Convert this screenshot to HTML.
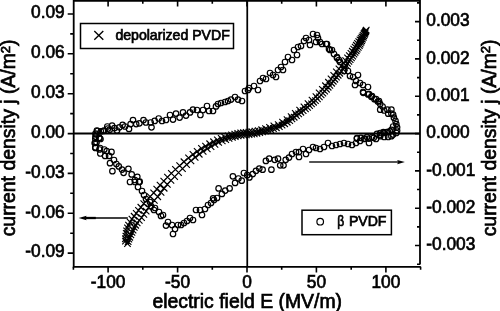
<!DOCTYPE html><html><head><meta charset="utf-8"><style>html,body{margin:0;padding:0;background:#fff;}svg{display:block}</style></head><body>
<svg width="500" height="311" viewBox="0 0 500 311" font-family="'Liberation Sans', sans-serif">
<style>text{stroke:#000;stroke-width:0.7px;font-variant-ligatures:none;font-feature-settings:"liga" 0;}</style>
<g stroke="#000" fill="none">
<line x1="73.7" y1="133.55" x2="420.0" y2="133.55" stroke-width="2"/>
<line x1="247.25" y1="0.8" x2="247.25" y2="266.8" stroke-width="1.75"/>
</g>
<g fill="none" stroke="#000" stroke-width="1.2">
<circle cx="96.9" cy="130.5" r="2.75"/>
<circle cx="100.9" cy="131.3" r="2.75"/>
<circle cx="104.1" cy="130.5" r="2.75"/>
<circle cx="107.3" cy="126.5" r="2.75"/>
<circle cx="109.7" cy="129.7" r="2.75"/>
<circle cx="112.1" cy="125.7" r="2.75"/>
<circle cx="114.5" cy="128.1" r="2.75"/>
<circle cx="117.0" cy="130.5" r="2.75"/>
<circle cx="119.4" cy="127.3" r="2.75"/>
<circle cx="122.6" cy="124.9" r="2.75"/>
<circle cx="125.0" cy="126.5" r="2.75"/>
<circle cx="129.0" cy="128.9" r="2.75"/>
<circle cx="130.6" cy="124.1" r="2.75"/>
<circle cx="133.0" cy="120.1" r="2.75"/>
<circle cx="136.2" cy="124.1" r="2.75"/>
<circle cx="139.4" cy="123.3" r="2.75"/>
<circle cx="143.5" cy="120.1" r="2.75"/>
<circle cx="145.9" cy="122.5" r="2.75"/>
<circle cx="150.7" cy="122.5" r="2.75"/>
<circle cx="151.5" cy="127.3" r="2.75"/>
<circle cx="154.7" cy="120.9" r="2.75"/>
<circle cx="158.7" cy="118.5" r="2.75"/>
<circle cx="162.0" cy="121.0" r="2.75"/>
<circle cx="166.0" cy="120.0" r="2.75"/>
<circle cx="170.0" cy="115.0" r="2.75"/>
<circle cx="173.0" cy="119.6" r="2.75"/>
<circle cx="176.0" cy="113.6" r="2.75"/>
<circle cx="179.6" cy="117.6" r="2.75"/>
<circle cx="183.0" cy="112.4" r="2.75"/>
<circle cx="186.0" cy="115.6" r="2.75"/>
<circle cx="190.0" cy="112.4" r="2.75"/>
<circle cx="193.0" cy="109.6" r="2.75"/>
<circle cx="197.0" cy="110.0" r="2.75"/>
<circle cx="200.4" cy="115.0" r="2.75"/>
<circle cx="203.0" cy="110.0" r="2.75"/>
<circle cx="207.0" cy="106.0" r="2.75"/>
<circle cx="209.0" cy="111.0" r="2.75"/>
<circle cx="213.0" cy="111.0" r="2.75"/>
<circle cx="216.0" cy="106.4" r="2.75"/>
<circle cx="218.0" cy="104.0" r="2.75"/>
<circle cx="221.0" cy="103.0" r="2.75"/>
<circle cx="225.0" cy="102.0" r="2.75"/>
<circle cx="228.0" cy="101.0" r="2.75"/>
<circle cx="231.0" cy="99.6" r="2.75"/>
<circle cx="235.0" cy="97.0" r="2.75"/>
<circle cx="238.0" cy="99.6" r="2.75"/>
<circle cx="242.0" cy="101.0" r="2.75"/>
<circle cx="245.0" cy="91.0" r="2.75"/>
<circle cx="248.0" cy="90.0" r="2.75"/>
<circle cx="249.0" cy="88.0" r="2.75"/>
<circle cx="254.0" cy="86.0" r="2.75"/>
<circle cx="258.0" cy="90.0" r="2.75"/>
<circle cx="260.0" cy="81.0" r="2.75"/>
<circle cx="263.0" cy="78.0" r="2.75"/>
<circle cx="266.0" cy="79.0" r="2.75"/>
<circle cx="270.0" cy="73.0" r="2.75"/>
<circle cx="273.0" cy="75.0" r="2.75"/>
<circle cx="276.0" cy="77.0" r="2.75"/>
<circle cx="278.0" cy="70.0" r="2.75"/>
<circle cx="281.0" cy="67.0" r="2.75"/>
<circle cx="283.0" cy="70.0" r="2.75"/>
<circle cx="285.0" cy="62.0" r="2.75"/>
<circle cx="288.0" cy="57.0" r="2.75"/>
<circle cx="292.0" cy="60.0" r="2.75"/>
<circle cx="294.0" cy="50.0" r="2.75"/>
<circle cx="297.0" cy="55.0" r="2.75"/>
<circle cx="298.0" cy="47.0" r="2.75"/>
<circle cx="301.0" cy="46.0" r="2.75"/>
<circle cx="304.0" cy="41.0" r="2.75"/>
<circle cx="306.0" cy="38.0" r="2.75"/>
<circle cx="309.0" cy="40.0" r="2.75"/>
<circle cx="310.0" cy="45.0" r="2.75"/>
<circle cx="313.0" cy="34.0" r="2.75"/>
<circle cx="317.0" cy="35.0" r="2.75"/>
<circle cx="318.0" cy="38.0" r="2.75"/>
<circle cx="316.0" cy="42.0" r="2.75"/>
<circle cx="320.0" cy="42.0" r="2.75"/>
<circle cx="322.0" cy="44.0" r="2.75"/>
<circle cx="327.0" cy="44.0" r="2.75"/>
<circle cx="329.0" cy="49.0" r="2.75"/>
<circle cx="332.0" cy="50.0" r="2.75"/>
<circle cx="334.0" cy="54.0" r="2.75"/>
<circle cx="337.0" cy="57.0" r="2.75"/>
<circle cx="339.0" cy="60.0" r="2.75"/>
<circle cx="326.0" cy="44.0" r="2.75"/>
<circle cx="330.0" cy="50.0" r="2.75"/>
<circle cx="337.0" cy="58.0" r="2.75"/>
<circle cx="340.0" cy="62.0" r="2.75"/>
<circle cx="345.0" cy="65.0" r="2.75"/>
<circle cx="344.0" cy="71.0" r="2.75"/>
<circle cx="348.0" cy="71.0" r="2.75"/>
<circle cx="350.0" cy="76.0" r="2.75"/>
<circle cx="353.0" cy="77.0" r="2.75"/>
<circle cx="358.0" cy="75.0" r="2.75"/>
<circle cx="356.0" cy="81.0" r="2.75"/>
<circle cx="355.0" cy="85.0" r="2.75"/>
<circle cx="360.0" cy="83.0" r="2.75"/>
<circle cx="363.0" cy="85.0" r="2.75"/>
<circle cx="368.0" cy="87.0" r="2.75"/>
<circle cx="363.0" cy="92.0" r="2.75"/>
<circle cx="369.0" cy="94.0" r="2.75"/>
<circle cx="372.0" cy="96.0" r="2.75"/>
<circle cx="376.0" cy="99.0" r="2.75"/>
<circle cx="379.0" cy="101.0" r="2.75"/>
<circle cx="363.3" cy="92.8" r="2.75"/>
<circle cx="368.1" cy="94.4" r="2.75"/>
<circle cx="371.3" cy="96.8" r="2.75"/>
<circle cx="374.5" cy="99.2" r="2.75"/>
<circle cx="377.8" cy="101.6" r="2.75"/>
<circle cx="380.2" cy="104.0" r="2.75"/>
<circle cx="382.6" cy="106.5" r="2.75"/>
<circle cx="380.2" cy="109.7" r="2.75"/>
<circle cx="384.2" cy="110.5" r="2.75"/>
<circle cx="387.4" cy="109.7" r="2.75"/>
<circle cx="391.4" cy="109.7" r="2.75"/>
<circle cx="388.2" cy="113.7" r="2.75"/>
<circle cx="391.4" cy="113.7" r="2.75"/>
<circle cx="393.1" cy="114.5" r="2.75"/>
<circle cx="393.9" cy="117.7" r="2.75"/>
<circle cx="395.5" cy="120.9" r="2.75"/>
<circle cx="396.3" cy="124.1" r="2.75"/>
<circle cx="397.1" cy="127.3" r="2.75"/>
<circle cx="397.1" cy="130.6" r="2.75"/>
<circle cx="396.3" cy="133.0" r="2.75"/>
<circle cx="393.1" cy="126.5" r="2.75"/>
<circle cx="391.5" cy="129.8" r="2.75"/>
<circle cx="389.8" cy="131.4" r="2.75"/>
<circle cx="386.6" cy="132.2" r="2.75"/>
<circle cx="383.4" cy="132.2" r="2.75"/>
<circle cx="380.2" cy="133.0" r="2.75"/>
<circle cx="377.0" cy="133.8" r="2.75"/>
<circle cx="380.2" cy="136.2" r="2.75"/>
<circle cx="384.2" cy="137.0" r="2.75"/>
<circle cx="388.2" cy="137.0" r="2.75"/>
<circle cx="391.4" cy="136.2" r="2.75"/>
<circle cx="393.1" cy="134.6" r="2.75"/>
<circle cx="373.7" cy="137.8" r="2.75"/>
<circle cx="368.9" cy="138.6" r="2.75"/>
<circle cx="364.9" cy="138.6" r="2.75"/>
<circle cx="360.9" cy="137.8" r="2.75"/>
<circle cx="356.9" cy="138.6" r="2.75"/>
<circle cx="388.0" cy="132.0" r="2.75"/>
<circle cx="384.0" cy="133.0" r="2.75"/>
<circle cx="380.0" cy="135.0" r="2.75"/>
<circle cx="376.0" cy="139.0" r="2.75"/>
<circle cx="372.0" cy="137.0" r="2.75"/>
<circle cx="367.0" cy="137.0" r="2.75"/>
<circle cx="369.0" cy="143.0" r="2.75"/>
<circle cx="364.0" cy="139.0" r="2.75"/>
<circle cx="360.0" cy="141.0" r="2.75"/>
<circle cx="357.0" cy="138.0" r="2.75"/>
<circle cx="356.0" cy="143.0" r="2.75"/>
<circle cx="352.0" cy="145.0" r="2.75"/>
<circle cx="348.0" cy="144.0" r="2.75"/>
<circle cx="344.0" cy="143.0" r="2.75"/>
<circle cx="340.0" cy="144.0" r="2.75"/>
<circle cx="336.0" cy="145.0" r="2.75"/>
<circle cx="332.0" cy="146.0" r="2.75"/>
<circle cx="328.0" cy="143.0" r="2.75"/>
<circle cx="324.0" cy="147.0" r="2.75"/>
<circle cx="320.0" cy="149.0" r="2.75"/>
<circle cx="316.0" cy="148.0" r="2.75"/>
<circle cx="313.0" cy="147.0" r="2.75"/>
<circle cx="309.0" cy="150.0" r="2.75"/>
<circle cx="306.0" cy="154.0" r="2.75"/>
<circle cx="303.0" cy="149.0" r="2.75"/>
<circle cx="299.0" cy="157.0" r="2.75"/>
<circle cx="296.0" cy="152.0" r="2.75"/>
<circle cx="292.0" cy="154.0" r="2.75"/>
<circle cx="298.9" cy="152.1" r="2.75"/>
<circle cx="289.0" cy="157.6" r="2.75"/>
<circle cx="285.7" cy="159.8" r="2.75"/>
<circle cx="283.5" cy="165.3" r="2.75"/>
<circle cx="280.2" cy="165.3" r="2.75"/>
<circle cx="278.0" cy="158.7" r="2.75"/>
<circle cx="274.7" cy="159.8" r="2.75"/>
<circle cx="271.4" cy="169.7" r="2.75"/>
<circle cx="269.2" cy="158.7" r="2.75"/>
<circle cx="265.9" cy="160.9" r="2.75"/>
<circle cx="262.6" cy="169.7" r="2.75"/>
<circle cx="259.3" cy="168.6" r="2.75"/>
<circle cx="256.0" cy="170.8" r="2.75"/>
<circle cx="252.7" cy="174.1" r="2.75"/>
<circle cx="249.4" cy="177.4" r="2.75"/>
<circle cx="247.2" cy="175.2" r="2.75"/>
<circle cx="243.9" cy="173.0" r="2.75"/>
<circle cx="241.7" cy="180.7" r="2.75"/>
<circle cx="238.4" cy="178.5" r="2.75"/>
<circle cx="235.1" cy="182.9" r="2.75"/>
<circle cx="232.9" cy="176.3" r="2.75"/>
<circle cx="229.6" cy="188.4" r="2.75"/>
<circle cx="225.2" cy="190.6" r="2.75"/>
<circle cx="221.9" cy="193.9" r="2.75"/>
<circle cx="218.6" cy="188.4" r="2.75"/>
<circle cx="213.1" cy="198.3" r="2.75"/>
<circle cx="217.0" cy="198.0" r="2.75"/>
<circle cx="214.0" cy="200.0" r="2.75"/>
<circle cx="211.0" cy="203.0" r="2.75"/>
<circle cx="208.0" cy="205.0" r="2.75"/>
<circle cx="205.0" cy="209.0" r="2.75"/>
<circle cx="202.0" cy="215.0" r="2.75"/>
<circle cx="200.0" cy="210.0" r="2.75"/>
<circle cx="196.0" cy="210.0" r="2.75"/>
<circle cx="193.0" cy="220.0" r="2.75"/>
<circle cx="190.0" cy="218.0" r="2.75"/>
<circle cx="187.0" cy="221.0" r="2.75"/>
<circle cx="184.0" cy="223.0" r="2.75"/>
<circle cx="181.0" cy="225.0" r="2.75"/>
<circle cx="178.0" cy="225.0" r="2.75"/>
<circle cx="175.0" cy="229.0" r="2.75"/>
<circle cx="173.0" cy="234.0" r="2.75"/>
<circle cx="172.0" cy="225.0" r="2.75"/>
<circle cx="166.0" cy="225.6" r="2.75"/>
<circle cx="168.0" cy="222.0" r="2.75"/>
<circle cx="163.0" cy="215.0" r="2.75"/>
<circle cx="161.0" cy="216.0" r="2.75"/>
<circle cx="159.0" cy="212.0" r="2.75"/>
<circle cx="154.0" cy="210.0" r="2.75"/>
<circle cx="155.0" cy="208.0" r="2.75"/>
<circle cx="151.0" cy="206.0" r="2.75"/>
<circle cx="150.0" cy="202.0" r="2.75"/>
<circle cx="146.0" cy="199.0" r="2.75"/>
<circle cx="144.0" cy="195.0" r="2.75"/>
<circle cx="142.0" cy="191.0" r="2.75"/>
<circle cx="138.0" cy="187.0" r="2.75"/>
<circle cx="139.0" cy="182.0" r="2.75"/>
<circle cx="135.0" cy="182.0" r="2.75"/>
<circle cx="130.0" cy="182.0" r="2.75"/>
<circle cx="139.7" cy="181.7" r="2.75"/>
<circle cx="134.9" cy="180.0" r="2.75"/>
<circle cx="137.3" cy="176.8" r="2.75"/>
<circle cx="131.7" cy="174.4" r="2.75"/>
<circle cx="128.4" cy="168.8" r="2.75"/>
<circle cx="123.6" cy="172.8" r="2.75"/>
<circle cx="122.0" cy="169.6" r="2.75"/>
<circle cx="112.4" cy="171.2" r="2.75"/>
<circle cx="118.8" cy="166.4" r="2.75"/>
<circle cx="116.4" cy="164.0" r="2.75"/>
<circle cx="110.0" cy="163.2" r="2.75"/>
<circle cx="114.0" cy="160.0" r="2.75"/>
<circle cx="111.5" cy="151.9" r="2.75"/>
<circle cx="109.1" cy="155.9" r="2.75"/>
<circle cx="105.1" cy="155.9" r="2.75"/>
<circle cx="106.7" cy="151.1" r="2.75"/>
<circle cx="104.3" cy="149.5" r="2.75"/>
<circle cx="100.3" cy="153.5" r="2.75"/>
<circle cx="99.5" cy="149.5" r="2.75"/>
<circle cx="95.5" cy="147.9" r="2.75"/>
<circle cx="94.7" cy="143.0" r="2.75"/>
<circle cx="99.5" cy="138.2" r="2.75"/>
<circle cx="95.5" cy="136.6" r="2.75"/>
<circle cx="96.1" cy="134.5" r="2.75"/>
<circle cx="95.3" cy="138.6" r="2.75"/>
<circle cx="95.3" cy="142.6" r="2.75"/>
<circle cx="95.3" cy="147.4" r="2.75"/>
<circle cx="99.3" cy="137.8" r="2.75"/>
<circle cx="97.5" cy="131.0" r="2.75"/>
<circle cx="103.0" cy="131.0" r="2.75"/>
<circle cx="95.5" cy="133.5" r="2.75"/>
<circle cx="100.5" cy="139.0" r="2.75"/>
<circle cx="96.5" cy="142.5" r="2.75"/>
<circle cx="100.0" cy="148.0" r="2.75"/>
<circle cx="108.0" cy="128.5" r="2.75"/>
</g>
<path d="M124.2 240.4L130.7 246.9M124.2 246.9L130.7 240.4M124.9 238.3L131.4 244.8M124.9 244.8L131.4 238.3M125.6 235.9L132.1 242.4M125.6 242.4L132.1 235.9M126.5 234.0L133.0 240.5M126.5 240.5L133.0 234.0M127.6 231.6L134.1 238.1M127.6 238.1L134.1 231.6M128.7 229.2L135.2 235.7M128.7 235.7L135.2 229.2M129.8 226.9L136.3 233.4M129.8 233.4L136.3 226.9M131.0 224.2L137.5 230.7M131.0 230.7L137.5 224.2M132.4 222.0L138.9 228.5M132.4 228.5L138.9 222.0M133.9 219.6L140.4 226.1M133.9 226.1L140.4 219.6M136.0 217.1L142.5 223.6M136.0 223.6L142.5 217.1M138.3 214.3L144.8 220.8M138.3 220.8L144.8 214.3M140.6 211.1L147.1 217.6M140.6 217.6L147.1 211.1M142.9 207.8L149.4 214.3M142.9 214.3L149.4 207.8M145.3 204.4L151.8 210.9M145.3 210.9L151.8 204.4M148.1 200.7L154.6 207.2M148.1 207.2L154.6 200.7M151.1 197.2L157.6 203.7M151.1 203.7L157.6 197.2M154.5 193.5L161.0 200.0M154.5 200.0L161.0 193.5M157.8 189.2L164.3 195.7M157.8 195.7L164.3 189.2M160.9 185.0L167.4 191.5M160.9 191.5L167.4 185.0M164.1 181.2L170.6 187.7M164.1 187.7L170.6 181.2M167.7 177.2L174.2 183.7M167.7 183.7L174.2 177.2M171.4 173.4L177.9 179.9M171.4 179.9L177.9 173.4M175.3 169.3L181.8 175.8M175.3 175.8L181.8 169.3M179.2 165.4L185.7 171.9M179.2 171.9L185.7 165.4M183.4 161.4L189.9 167.9M183.4 167.9L189.9 161.4M187.7 157.7L194.2 164.2M187.7 164.2L194.2 157.7M191.9 154.2L198.4 160.7M191.9 160.7L198.4 154.2M196.0 151.0L202.5 157.5M196.0 157.5L202.5 151.0M199.9 148.1L206.4 154.6M199.9 154.6L206.4 148.1M204.0 145.6L210.5 152.1M204.0 152.1L210.5 145.6M207.8 143.3L214.3 149.8M207.8 149.8L214.3 143.3M211.7 141.2L218.2 147.7M211.7 147.7L218.2 141.2M215.4 139.2L221.9 145.7M215.4 145.7L221.9 139.2M219.0 137.7L225.5 144.2M219.0 144.2L225.5 137.7M222.5 136.3L229.0 142.8M222.5 142.8L229.0 136.3M225.8 135.1L232.3 141.6M225.8 141.6L232.3 135.1M229.1 134.1L235.6 140.6M229.1 140.6L235.6 134.1M232.0 133.3L238.5 139.8M232.0 139.8L238.5 133.3M234.9 132.7L241.4 139.2M234.9 139.2L241.4 132.7M237.8 132.2L244.3 138.7M237.8 138.7L244.3 132.2M240.6 131.9L247.1 138.4M240.6 138.4L247.1 131.9M243.1 131.7L249.6 138.2M243.1 138.2L249.6 131.7M245.8 131.3L252.3 137.8M245.8 137.8L252.3 131.3M248.4 130.9L254.9 137.4M248.4 137.4L254.9 130.9M251.0 130.6L257.5 137.1M251.0 137.1L257.5 130.6M253.7 130.0L260.2 136.5M253.7 136.5L260.2 130.0M256.5 129.4L263.0 135.9M256.5 135.9L263.0 129.4M259.3 128.7L265.8 135.2M259.3 135.2L265.8 128.7M262.0 127.9L268.5 134.4M262.0 134.4L268.5 127.9M264.7 127.1L271.2 133.6M264.7 133.6L271.2 127.1M267.4 126.3L273.9 132.8M267.4 132.8L273.9 126.3M270.2 125.4L276.7 131.9M270.2 131.9L276.7 125.4M273.1 124.5L279.6 131.0M273.1 131.0L279.6 124.5M276.1 123.4L282.6 129.9M276.1 129.9L282.6 123.4M278.8 121.9L285.3 128.4M278.8 128.4L285.3 121.9M281.4 120.5L287.9 127.0M281.4 127.0L287.9 120.5M284.0 119.0L290.5 125.5M284.0 125.5L290.5 119.0M286.5 117.4L293.0 123.9M286.5 123.9L293.0 117.4M288.7 115.7L295.2 122.2M288.7 122.2L295.2 115.7M290.9 114.0L297.4 120.5M290.9 120.5L297.4 114.0M293.2 112.3L299.7 118.8M293.2 118.8L299.7 112.3M295.4 110.6L301.9 117.1M295.4 117.1L301.9 110.6M297.6 109.0L304.1 115.5M297.6 115.5L304.1 109.0M299.9 107.3L306.4 113.8M299.9 113.8L306.4 107.3M302.2 105.7L308.7 112.2M302.2 112.2L308.7 105.7M304.3 104.2L310.8 110.7M304.3 110.7L310.8 104.2M306.4 102.4L312.9 108.9M306.4 108.9L312.9 102.4M308.3 100.7L314.8 107.2M308.3 107.2L314.8 100.7M310.3 99.0L316.8 105.5M310.3 105.5L316.8 99.0M312.2 97.3L318.7 103.8M312.2 103.8L318.7 97.3M314.2 95.6L320.7 102.1M314.2 102.1L320.7 95.6M316.1 93.6L322.6 100.1M316.1 100.1L322.6 93.6M317.9 91.7L324.4 98.2M317.9 98.2L324.4 91.7M319.6 89.8L326.1 96.3M319.6 96.3L326.1 89.8M321.4 87.9L327.9 94.4M321.4 94.4L327.9 87.9M323.2 86.0L329.7 92.5M323.2 92.5L329.7 86.0M324.9 84.0L331.4 90.5M324.9 90.5L331.4 84.0M326.6 82.1L333.1 88.6M326.6 88.6L333.1 82.1M328.4 80.0L334.9 86.5M328.4 86.5L334.9 80.0M330.0 78.0L336.5 84.5M330.0 84.5L336.5 78.0M331.6 76.0L338.1 82.5M331.6 82.5L338.1 76.0M333.2 73.9L339.7 80.4M333.2 80.4L339.7 73.9M334.9 72.0L341.4 78.5M334.9 78.5L341.4 72.0M336.5 70.0L343.0 76.5M336.5 76.5L343.0 70.0M338.2 67.9L344.7 74.4M338.2 74.4L344.7 67.9M339.8 65.9L346.3 72.4M339.8 72.4L346.3 65.9M341.3 64.0L347.8 70.5M341.3 70.5L347.8 64.0M342.8 62.1L349.3 68.6M342.8 68.6L349.3 62.1M344.2 60.1L350.7 66.6M344.2 66.6L350.7 60.1M345.6 58.2L352.1 64.7M345.6 64.7L352.1 58.2M346.9 56.4L353.4 62.9M346.9 62.9L353.4 56.4M348.2 54.7L354.7 61.2M348.2 61.2L354.7 54.7M349.5 52.8L356.0 59.3M349.5 59.3L356.0 52.8M350.7 50.9L357.2 57.4M350.7 57.4L357.2 50.9M351.8 49.2L358.3 55.7M351.8 55.7L358.3 49.2M352.9 47.5L359.4 54.0M352.9 54.0L359.4 47.5M353.9 45.9L360.4 52.4M353.9 52.4L360.4 45.9M355.0 44.2L361.5 50.7M355.0 50.7L361.5 44.2M356.1 42.4L362.6 48.9M356.1 48.9L362.6 42.4M356.9 40.8L363.4 47.3M356.9 47.3L363.4 40.8M357.7 39.2L364.2 45.7M357.7 45.7L364.2 39.2M358.4 37.5L364.9 44.0M358.4 44.0L364.9 37.5M359.2 35.9L365.7 42.4M359.2 42.4L365.7 35.9M360.0 34.2L366.5 40.7M360.0 40.7L366.5 34.2M360.6 32.7L367.1 39.2M360.6 39.2L367.1 32.7M361.2 31.2L367.7 37.7M361.2 37.7L367.7 31.2M361.8 29.8L368.3 36.3M361.8 36.3L368.3 29.8M362.4 28.3L368.9 34.8M362.4 34.8L368.9 28.3M363.0 26.8L369.5 33.3M363.0 33.3L369.5 26.8M122.2 237.9L128.7 244.4M122.2 244.4L128.7 237.9M122.2 235.5L128.7 242.0M122.2 242.0L128.7 235.5M122.6 232.8L129.1 239.3M122.6 239.3L129.1 232.8M123.0 230.2L129.5 236.7M123.0 236.7L129.5 230.2M123.4 227.6L129.9 234.1M123.4 234.1L129.9 227.6M124.2 224.7L130.7 231.2M124.2 231.2L130.7 224.7M125.3 221.9L131.8 228.4M125.3 228.4L131.8 221.9M126.9 218.8L133.4 225.3M126.9 225.3L133.4 218.8M128.7 215.8L135.2 222.3M128.7 222.3L135.2 215.8M130.9 213.0L137.4 219.5M130.9 219.5L137.4 213.0M133.0 210.2L139.5 216.7M133.0 216.7L139.5 210.2M135.2 207.2L141.7 213.7M135.2 213.7L141.7 207.2M137.6 204.0L144.1 210.5M137.6 210.5L144.1 204.0M140.5 200.4L147.0 206.9M140.5 206.9L147.0 200.4M143.6 197.0L150.1 203.5M143.6 203.5L150.1 197.0M146.9 193.3L153.4 199.8M146.9 199.8L153.4 193.3M150.4 189.7L156.9 196.2M150.4 196.2L156.9 189.7M153.5 185.9L160.0 192.4M153.5 192.4L160.0 185.9M156.8 181.8L163.3 188.3M156.8 188.3L163.3 181.8M160.5 177.8L167.0 184.3M160.5 184.3L167.0 177.8M164.2 173.9L170.7 180.4M164.2 180.4L170.7 173.9M168.1 170.1L174.6 176.6M168.1 176.6L174.6 170.1M172.2 166.2L178.7 172.7M172.2 172.7L178.7 166.2M176.4 162.4L182.9 168.9M176.4 168.9L182.9 162.4M180.7 158.5L187.2 165.0M180.7 165.0L187.2 158.5M185.3 154.7L191.8 161.2M185.3 161.2L191.8 154.7M189.7 151.2L196.2 157.7M189.7 157.7L196.2 151.2M193.9 148.2L200.4 154.7M193.9 154.7L200.4 148.2M198.2 145.2L204.7 151.7M198.2 151.7L204.7 145.2M202.3 142.8L208.8 149.3M202.3 149.3L208.8 142.8M206.4 140.5L212.9 147.0M206.4 147.0L212.9 140.5M210.3 138.5L216.8 145.0M210.3 145.0L216.8 138.5M214.1 136.7L220.6 143.2M214.1 143.2L220.6 136.7M218.0 135.2L224.5 141.7M218.0 141.7L224.5 135.2M221.5 133.8L228.0 140.3M221.5 140.3L228.0 133.8M225.0 132.7L231.5 139.2M225.0 139.2L231.5 132.7M228.3 131.7L234.8 138.2M228.3 138.2L234.8 131.7M231.5 130.8L238.0 137.3M231.5 137.3L238.0 130.8M234.5 130.2L241.0 136.7M234.5 136.7L241.0 130.2M237.5 129.7L244.0 136.2M237.5 136.2L244.0 129.7M240.3 129.4L246.8 135.9M240.3 135.9L246.8 129.4M242.9 129.2L249.4 135.7M242.9 135.7L249.4 129.2M245.6 128.8L252.1 135.3M245.6 135.3L252.1 128.8M248.6 128.4L255.1 134.9M248.6 134.9L255.1 128.4M251.7 127.9L258.2 134.4M251.7 134.4L258.2 127.9M255.0 127.3L261.5 133.8M255.0 133.8L261.5 127.3M258.4 126.5L264.9 133.0M258.4 133.0L264.9 126.5M262.3 125.3L268.8 131.8M262.3 131.8L268.8 125.3M266.3 124.1L272.8 130.6M266.3 130.6L272.8 124.1M270.6 122.7L277.1 129.2M270.6 129.2L277.1 122.7M275.0 121.3L281.5 127.8M275.0 127.8L281.5 121.3M279.3 118.9L285.8 125.4M279.3 125.4L285.8 118.9M283.8 116.3L290.3 122.8M283.8 122.8L290.3 116.3M287.9 113.3L294.4 119.8M287.9 119.8L294.4 113.3M292.0 110.2L298.5 116.7M292.0 116.7L298.5 110.2M296.4 106.9L302.9 113.4M296.4 113.4L302.9 106.9M300.7 103.7L307.2 110.2M300.7 110.2L307.2 103.7M304.8 100.4L311.3 106.9M304.8 106.9L311.3 100.4M308.8 96.8L315.3 103.3M308.8 103.3L315.3 96.8M312.7 93.3L319.2 99.8M312.7 99.8L319.2 93.3M315.9 89.7L322.4 96.2M315.9 96.2L322.4 89.7M319.1 86.1L325.6 92.6M319.1 92.6L325.6 86.1M322.2 82.5L328.7 89.0M322.2 89.0L328.7 82.5M325.2 79.0L331.7 85.5M325.2 85.5L331.7 79.0M327.8 75.6L334.3 82.1M327.8 82.1L334.3 75.6M330.5 72.1L337.0 78.6M330.5 78.6L337.0 72.1M333.1 68.7L339.6 75.2M333.1 75.2L339.6 68.7M335.7 65.7L342.2 72.2M335.7 72.2L342.2 65.7M338.1 62.7L344.6 69.2M338.1 69.2L344.6 62.7M340.3 60.0L346.8 66.5M340.3 66.5L346.8 60.0M342.4 57.3L348.9 63.8M342.4 63.8L348.9 57.3M344.3 54.7L350.8 61.2M344.3 61.2L350.8 54.7M346.1 52.3L352.6 58.8M346.1 58.8L352.6 52.3M347.7 50.1L354.2 56.6M347.7 56.6L354.2 50.1M349.1 48.0L355.6 54.5M349.1 54.5L355.6 48.0M350.5 45.8L357.0 52.3M350.5 52.3L357.0 45.8M351.9 43.8L358.4 50.3M351.9 50.3L358.4 43.8M353.1 42.0L359.6 48.5M353.1 48.5L359.6 42.0M354.2 40.1L360.7 46.6M354.2 46.6L360.7 40.1M355.5 38.3L362.0 44.8M355.5 44.8L362.0 38.3M356.7 36.7L363.2 43.2M356.7 43.2L363.2 36.7M357.8 35.1L364.3 41.6M357.8 41.6L364.3 35.1M358.8 33.6L365.3 40.1M358.8 40.1L365.3 33.6M359.8 32.1L366.3 38.6M359.8 38.6L366.3 32.1M360.7 30.5L367.2 37.0M360.7 37.0L367.2 30.5M361.6 29.2L368.1 35.7M361.6 35.7L368.1 29.2M362.4 27.8L368.9 34.3M362.4 34.3L368.9 27.8" stroke="#000" stroke-width="1.15" fill="none"/>
<polyline points="127.5,243.6 127.8,242.7 128.1,241.7 128.4,240.7 128.6,239.8 128.9,239.0 129.3,238.1 129.8,237.2 130.2,236.3 130.6,235.4 131.0,234.5 131.5,233.6 131.9,232.7 132.3,231.9 132.7,231.1 133.1,230.2 133.5,229.2 133.9,228.3 134.3,227.4 134.5,227.0 135.1,226.1 135.6,225.3 136.1,224.4 136.7,223.6 137.1,222.8 137.6,222.3 138.2,221.6 138.9,220.8 139.5,220.0 140.1,219.3 140.8,218.5 141.4,217.7 142.2,216.8 142.8,216.0 143.3,215.2 143.9,214.3 144.4,213.5 145.0,212.7 145.6,211.8 146.1,211.0 146.7,210.2 147.1,209.5 147.7,208.7 148.3,207.9 148.9,207.1 149.6,206.4 150.2,205.6 150.8,204.8 151.4,204.0 152.0,203.2 152.5,202.5 153.2,201.8 153.9,201.1 154.5,200.3 155.2,199.6 155.9,198.8 156.5,198.1 157.2,197.3 157.8,196.6 158.6,195.6 159.2,194.8 159.8,194.0 160.4,193.2 161.0,192.4 161.6,191.6 162.2,190.8 162.8,190.0 163.4,189.2 164.0,188.4 164.6,187.6 165.1,187.0 165.8,186.3 166.4,185.5 167.1,184.8 167.8,184.0 168.4,183.3 169.1,182.5 169.8,181.8 170.4,181.0 171.1,180.3 171.7,179.6 172.4,178.9 173.1,178.2 173.8,177.5 174.5,176.7 175.2,176.0 175.9,175.3 176.6,174.6 177.3,173.9 178.0,173.1 178.7,172.4 179.4,171.7 180.0,171.1 180.7,170.4 181.5,169.7 182.2,169.0 182.9,168.3 183.6,167.6 184.3,166.9 185.0,166.2 185.8,165.5 186.5,164.8 187.2,164.1 187.9,163.5 188.6,162.9 189.4,162.2 190.2,161.6 190.9,161.0 191.7,160.3 192.5,159.7 193.2,159.0 194.0,158.4 194.8,157.8 195.5,157.2 196.3,156.6 197.1,156.0 197.9,155.4 198.7,154.8 199.5,154.1 200.2,153.5 201.0,152.9 201.8,152.3 202.6,151.7 203.3,151.2 204.2,150.7 205.0,150.2 205.9,149.7 206.7,149.2 207.6,148.6 208.4,148.1 209.3,147.6 210.1,147.1 210.9,146.6 211.8,146.1 212.7,145.7 213.6,145.2 214.4,144.7 215.3,144.3 216.2,143.8 217.1,143.3 218.0,142.8 218.8,142.4 219.7,142.1 220.6,141.7 221.5,141.3 222.4,140.9 223.4,140.5 224.3,140.1 225.2,139.8 226.1,139.4 227.0,139.1 227.9,138.8 228.9,138.5 229.8,138.2 230.8,137.9 231.7,137.6 232.7,137.3 233.6,136.9 234.6,136.7 235.4,136.5 236.4,136.3 237.4,136.1 238.4,136.0 239.4,135.8 240.3,135.6 241.2,135.4 242.2,135.3 243.2,135.2 244.2,135.1 245.2,135.0 246.2,134.9 247.2,134.8 248.2,134.7 249.2,134.5 250.2,134.4 251.2,134.2 252.2,134.1 253.2,134.0 254.2,133.8 255.2,133.6 256.2,133.4 257.2,133.2 258.2,133.0 259.1,132.8 260.1,132.6 261.1,132.4 262.2,132.1 263.1,131.8 264.1,131.5 265.0,131.2 266.0,131.0 267.0,130.7 267.9,130.4 268.9,130.1 269.8,129.8 270.8,129.5 271.8,129.2 272.7,128.9 273.7,128.6 274.6,128.3 275.6,128.0 276.5,127.7 277.5,127.4 278.4,127.1 279.6,126.6 280.4,126.1 281.3,125.6 282.2,125.1 283.0,124.6 283.9,124.1 284.8,123.6 285.7,123.1 286.5,122.6 287.4,122.1 288.3,121.6 289.2,121.0 290.0,120.4 290.8,119.8 291.6,119.2 292.4,118.6 293.2,118.0 294.0,117.4 294.8,116.8 295.6,116.2 296.4,115.6 297.2,115.0 298.0,114.4 298.8,113.8 299.6,113.2 300.4,112.6 301.2,112.0 302.0,111.4 302.8,110.8 303.6,110.2 304.4,109.6 305.2,109.1 306.1,108.5 306.9,107.9 307.7,107.3 308.6,106.6 309.3,106.0 310.1,105.3 310.8,104.6 311.6,104.0 312.3,103.3 313.1,102.7 313.8,102.0 314.6,101.3 315.3,100.7 316.1,100.0 316.8,99.4 317.6,98.7 318.4,97.9 319.1,97.2 319.8,96.4 320.4,95.7 321.1,95.0 321.8,94.2 322.5,93.5 323.2,92.8 323.8,92.0 324.5,91.3 325.2,90.6 325.9,89.8 326.6,89.1 327.2,88.3 327.9,87.6 328.6,86.8 329.2,86.1 329.9,85.3 330.5,84.6 331.2,83.8 331.9,83.0 332.5,82.2 333.1,81.4 333.7,80.6 334.4,79.8 335.0,79.1 335.6,78.3 336.2,77.5 336.8,76.7 337.5,76.0 338.1,75.2 338.7,74.4 339.4,73.7 340.0,72.9 340.7,72.1 341.3,71.3 341.9,70.6 342.5,69.8 343.2,69.0 343.8,68.2 344.4,67.4 345.1,66.6 345.7,65.8 346.3,65.0 346.9,64.2 347.5,63.4 348.0,62.6 348.6,61.8 349.2,61.0 349.8,60.2 350.4,59.4 351.0,58.6 351.6,57.7 352.2,56.9 352.8,56.0 353.3,55.2 353.9,54.3 354.4,53.5 354.9,52.6 355.5,51.8 356.0,51.0 356.6,50.1 357.1,49.3 357.6,48.4 358.2,47.6 358.7,46.7 359.2,45.8 359.7,44.9 360.1,44.0 360.6,43.1 361.0,42.2 361.4,41.3 361.9,40.4 362.3,39.5 362.7,38.6 363.2,37.7 363.6,36.7 363.9,35.8 364.3,34.9 364.7,33.9 365.1,33.0 365.5,32.1 365.8,31.1 366.2,30.2" stroke="#000" stroke-width="0.9" fill="none"/>
<polyline points="125.5,243.4 125.5,242.3 125.5,241.3 125.5,240.3 125.5,239.3 125.5,238.1 125.7,237.0 125.8,236.0 126.0,235.0 126.1,234.0 126.3,233.0 126.4,232.0 126.6,231.0 126.8,229.9 127.1,228.9 127.5,227.9 127.8,227.0 128.2,226.0 128.5,225.1 129.2,223.8 129.7,222.9 130.2,222.0 130.7,221.2 131.2,220.3 131.7,219.4 132.5,218.3 133.2,217.5 133.8,216.7 134.4,215.9 135.0,215.1 135.6,214.3 136.2,213.5 136.7,212.9 137.2,212.0 137.8,211.2 138.4,210.4 139.0,209.6 139.6,208.8 140.2,208.0 140.8,207.2 141.5,206.4 142.2,205.5 142.9,204.7 143.5,204.0 144.2,203.2 144.8,202.5 145.5,201.7 146.1,201.0 146.8,200.2 147.5,199.5 148.3,198.6 148.9,197.9 149.6,197.2 150.3,196.4 151.0,195.7 151.7,195.0 152.4,194.3 153.1,193.5 153.8,192.8 154.3,192.2 154.9,191.5 155.5,190.7 156.2,189.9 156.8,189.1 157.4,188.3 158.1,187.6 158.7,186.8 159.3,186.0 159.9,185.2 160.6,184.5 161.4,183.5 162.1,182.8 162.8,182.1 163.5,181.4 164.1,180.6 164.8,179.9 165.5,179.2 166.2,178.5 166.9,177.8 167.6,177.1 168.4,176.3 169.1,175.6 169.8,174.9 170.5,174.2 171.3,173.5 172.0,172.8 172.7,172.1 173.4,171.4 174.1,170.7 174.9,170.0 175.6,169.3 176.3,168.6 177.1,167.9 177.8,167.2 178.6,166.6 179.3,165.9 180.0,165.2 180.8,164.6 181.5,163.9 182.3,163.2 183.0,162.5 183.8,161.9 184.5,161.2 185.4,160.5 186.2,159.9 186.9,159.2 187.7,158.6 188.5,158.0 189.3,157.4 190.1,156.8 190.9,156.1 191.7,155.5 192.4,154.9 193.3,154.2 194.1,153.7 194.9,153.1 195.7,152.5 196.5,151.9 197.4,151.3 198.2,150.7 199.0,150.2 199.8,149.6 200.6,149.0 201.6,148.3 202.5,147.8 203.3,147.3 204.2,146.8 205.1,146.3 205.9,145.8 206.8,145.3 207.7,144.8 208.5,144.3 209.5,143.8 210.4,143.4 211.3,142.9 212.2,142.5 213.1,142.0 214.0,141.6 214.9,141.2 215.8,140.7 216.6,140.3 217.6,139.8 218.6,139.4 219.5,139.1 220.5,138.7 221.4,138.3 222.3,138.0 223.3,137.6 224.2,137.3 225.1,136.9 226.2,136.6 227.1,136.3 228.1,136.0 229.1,135.7 230.0,135.4 231.0,135.1 231.9,134.8 232.9,134.5 233.9,134.2 235.0,134.0 236.0,133.8 236.9,133.6 237.9,133.5 238.9,133.3 239.9,133.1 241.0,132.9 242.0,132.8 243.0,132.7 244.0,132.7 245.0,132.6 246.0,132.5 246.9,132.4 247.9,132.2 248.9,132.1 249.9,132.0 250.9,131.8 251.8,131.7 252.8,131.5 253.8,131.4 254.7,131.2 255.7,131.0 256.7,130.8 257.7,130.6 258.7,130.4 259.6,130.2 260.6,130.1 261.5,129.8 262.4,129.5 263.4,129.2 264.4,128.9 265.3,128.7 266.3,128.4 267.2,128.1 268.2,127.8 269.1,127.5 270.1,127.2 271.0,126.9 272.0,126.6 272.9,126.3 273.9,126.0 274.8,125.7 275.8,125.4 276.8,125.1 277.7,124.8 278.4,124.5 279.3,124.0 280.1,123.5 281.0,123.0 281.9,122.5 282.7,122.0 283.6,121.5 284.5,121.0 285.3,120.5 286.2,120.0 287.1,119.6 287.8,119.1 288.6,118.5 289.4,117.9 290.2,117.3 291.0,116.7 291.8,116.1 292.6,115.5 293.4,114.9 294.2,114.3 295.0,113.7 295.7,113.1 296.5,112.4 297.4,111.8 298.2,111.2 299.0,110.7 299.8,110.1 300.6,109.5 301.4,108.9 302.2,108.3 303.0,107.7 303.8,107.1 304.6,106.5 305.4,105.9 306.2,105.3 306.9,104.8 307.6,104.1 308.4,103.4 309.1,102.7 309.9,102.1 310.6,101.4 311.3,100.7 312.1,100.0 312.8,99.4 313.5,98.7 314.3,98.0 315.0,97.3 315.8,96.7 316.4,96.1 317.0,95.3 317.7,94.6 318.4,93.8 319.0,93.1 319.7,92.3 320.4,91.6 321.0,90.8 321.7,90.1 322.4,89.3 323.0,88.6 323.7,87.8 324.3,87.1 325.0,86.4 325.6,85.6 326.2,84.8 326.9,84.1 327.5,83.3 328.2,82.5 328.8,81.8 329.4,81.0 330.0,80.2 330.6,79.4 331.2,78.6 331.8,77.9 332.4,77.1 333.0,76.3 333.6,75.5 334.2,74.7 334.9,73.9 335.5,73.1 336.1,72.3 336.8,71.5 337.4,70.7 338.0,70.0 338.7,69.2 339.3,68.4 340.0,67.7 340.6,66.9 341.2,66.1 341.9,65.4 342.5,64.6 343.1,63.9 343.7,63.1 344.3,62.3 344.9,61.5 345.5,60.7 346.1,59.9 346.7,59.1 347.3,58.3 347.9,57.5 348.5,56.7 349.2,55.9 349.7,55.2 350.3,54.4 350.8,53.5 351.4,52.7 351.9,51.9 352.5,51.0 353.0,50.2 353.6,49.4 354.1,48.5 354.7,47.7 355.2,46.9 355.8,46.0 356.3,45.2 356.8,44.4 357.4,43.6 357.9,42.7 358.5,41.9 359.1,41.1 359.7,40.3 360.3,39.5 360.8,38.6 361.4,37.8 362.0,37.0 362.5,36.2 363.0,35.3 363.5,34.5 364.1,33.6 364.6,32.8 365.1,31.9 365.7,31.1 366.2,30.2" stroke="#000" stroke-width="0.9" fill="none"/>
<path d="M72.8 0.8H420.9M73.7 -0.09999999999999998V267.7M72.8 266.8H420.8M420.0 -0.09999999999999998V264.6" fill="none" stroke="#000" stroke-width="1.8"/>
<path d="M73.4 266.8v3M108.1 266.8v5.8M108.1 0.8v5.8M142.8 266.8v3M142.8 0.8v3M177.6 266.8v5.8M177.6 0.8v5.8M212.3 266.8v3M212.3 0.8v3M247.0 266.8v5.8M247.0 0.8v5.8M281.7 266.8v3M281.7 0.8v3M316.4 266.8v5.8M316.4 0.8v5.8M351.2 266.8v3M351.2 0.8v3M385.9 266.8v5.8M385.9 0.8v5.8M420.6 266.8v3M73.7 253.1h-6M73.7 233.2h-3.5M73.7 213.3h-6M73.7 193.3h-3.5M73.7 173.4h-6M73.7 153.5h-3.5M73.7 133.6h-6M73.7 113.6h-3.5M73.7 93.7h-6M73.7 73.8h-3.5M73.7 53.8h-6M73.7 33.9h-3.5M73.7 14.0h-6M420.0 264.2h-3M420.0 245.5h-5M420.0 226.9h-3M420.0 208.2h-5M420.0 189.5h-3M420.0 170.9h-5M420.0 152.2h-3M420.0 133.6h-5M420.0 114.9h-3M420.0 96.2h-5M420.0 77.6h-3M420.0 58.9h-5M420.0 40.2h-3M420.0 21.6h-5M420.0 2.9h-3" stroke="#000" stroke-width="1.6" fill="none"/>
<path d="M95 218H127.8" stroke="#000" stroke-width="1.3"/>
<path d="M78.6 218L86.6 215.8L85.6 218L86.6 220.2Z" fill="#000"/>
<path d="M85 218H95.8" stroke="#000" stroke-width="2.3"/>
<path d="M309.2 162H398" stroke="#1a1a1a" stroke-width="1.35"/>
<path d="M404.9 162.1L397.2 159.9L398.2 162.1L397.2 164.3Z" fill="#000"/>
<text transform="translate(64.7 18.28) scale(0.945 1)" font-size="18.3" text-anchor="end">0.09</text>
<text transform="translate(64.7 58.13) scale(0.945 1)" font-size="18.3" text-anchor="end">0.06</text>
<text transform="translate(64.7 97.99) scale(0.945 1)" font-size="18.3" text-anchor="end">0.03</text>
<text transform="translate(64.7 137.85) scale(0.945 1)" font-size="18.3" text-anchor="end">0.00</text>
<text transform="translate(64.7 177.71) scale(0.945 1)" font-size="18.3" text-anchor="end">-0.03</text>
<text transform="translate(64.7 217.57) scale(0.945 1)" font-size="18.3" text-anchor="end">-0.06</text>
<text transform="translate(64.7 257.42) scale(0.945 1)" font-size="18.3" text-anchor="end">-0.09</text>
<text transform="translate(426.3 26.26) scale(0.945 1)" font-size="18.3">0.003</text>
<text transform="translate(426.3 63.59) scale(0.945 1)" font-size="18.3">0.002</text>
<text transform="translate(426.3 100.92) scale(0.945 1)" font-size="18.3">0.001</text>
<text transform="translate(426.3 138.25) scale(0.945 1)" font-size="18.3">0.000</text>
<text transform="translate(426.3 175.58) scale(0.945 1)" font-size="18.3">-0.001</text>
<text transform="translate(426.3 212.91) scale(0.945 1)" font-size="18.3">-0.002</text>
<text transform="translate(426.3 250.24) scale(0.945 1)" font-size="18.3">-0.003</text>
<text transform="translate(108.10 287.9) scale(0.945 1)" font-size="18.3" text-anchor="middle">-100</text>
<text transform="translate(177.55 287.9) scale(0.945 1)" font-size="18.3" text-anchor="middle">-50</text>
<text transform="translate(247.00 287.9) scale(0.945 1)" font-size="18.3" text-anchor="middle">0</text>
<text transform="translate(316.45 287.9) scale(0.945 1)" font-size="18.3" text-anchor="middle">50</text>
<text transform="translate(385.90 287.9) scale(0.945 1)" font-size="18.3" text-anchor="middle">100</text>
<text x="247.2" y="307.5" font-size="19.4" text-anchor="middle">electric field E (MV/m)</text>
<text transform="translate(15.3 137.9) rotate(-90)" font-size="19.4" text-anchor="middle">current density j (A/m<tspan font-size="13" dy="-5.8">2</tspan><tspan dy="5.8">)</tspan></text>
<text transform="translate(495.6 137.9) rotate(-90)" font-size="19.4" text-anchor="middle">current density j (A/m<tspan font-size="13" dy="-5.8">2</tspan><tspan dy="5.8">)</tspan></text>
<rect x="80.5" y="23.5" width="153" height="25" fill="#fff" stroke="#000" stroke-width="1.5"/>
<path d="M94.3 31L103.3 39.8M94.3 39.8L103.3 31" stroke="#000" stroke-width="1.35"/>
<text x="115.4" y="39.6" font-size="14.1">depolarized PVDF</text>
<rect x="302" y="210.2" width="89.4" height="24.5" fill="#fff" stroke="#000" stroke-width="1.5"/>
<circle cx="320.2" cy="221.7" r="3.3" fill="none" stroke="#000" stroke-width="1.2"/>
<text transform="translate(337.3 226.2) scale(0.86 1)" font-size="14.1">β</text>
<text x="348.9" y="226.2" font-size="14.1">PVDF</text>
</svg></body></html>
